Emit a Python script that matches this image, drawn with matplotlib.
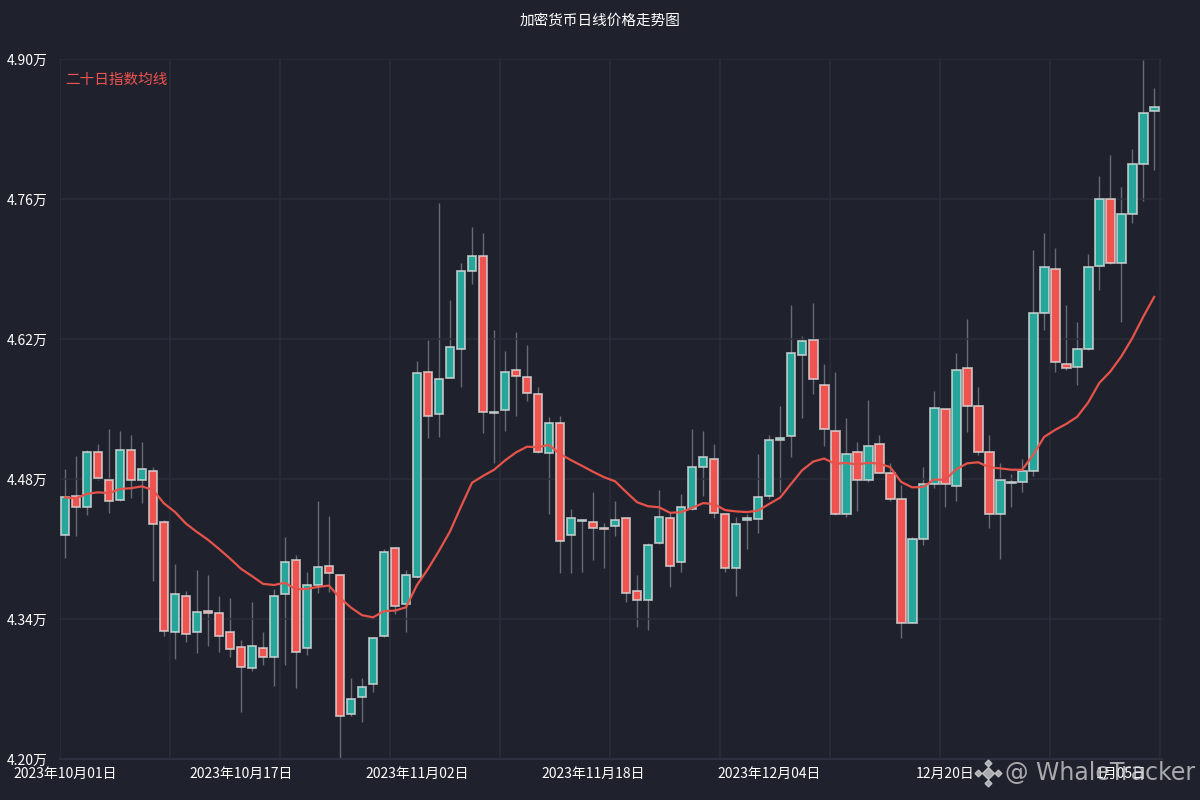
import matplotlib
matplotlib.use("Agg")
import matplotlib.pyplot as plt
from matplotlib.lines import Line2D
import numpy as np
import pandas as pd

plt.rcParams['font.family'] = ['Noto Sans CJK SC', 'DejaVu Sans']

# ---------------- data ----------------
title = "加密货币日线价格走势图"
ma_label = "二十日指数均线"

opens = [44237, 44633, 44520, 45073, 44790, 44593, 45093, 44787, 44883, 44370,
         43267, 43627, 43267, 43477, 43457, 43267, 43117, 42907, 43113, 43020,
         43647, 43990, 43113, 43740, 43933, 43837, 42447, 42617, 42750, 43227,
         44107, 43550, 43817, 45873, 45453, 45813, 46097, 46880, 47033, 45465,
         45490, 45890, 45817, 45647, 45057, 45357, 44237, 44377, 44370, 44313,
         44330, 44407, 43683, 43590, 44157, 44407, 43967, 44500, 44920, 44997,
         44447, 43913, 44390, 44403, 44633, 45187, 45227, 46040, 46193, 45737,
         45283, 44447, 45073, 44790, 45150, 44863, 44597, 43363, 44200, 44750,
         45497, 44727, 45913, 45530, 45073, 44447, 44757, 44767, 44883, 46463,
         46900, 45950, 45923, 46097, 46933, 47603, 46957, 47450, 47947, 48477]

closes = [44617, 44520, 45073, 44807, 44580, 45093, 44787, 44900, 44350, 43283,
          43647, 43247, 43473, 43457, 43230, 43097, 42923, 43133, 43020, 43630,
          43973, 43073, 43740, 43917, 43857, 42430, 42603, 42717, 43210, 44067,
          43533, 43837, 45857, 45433, 45797, 46120, 46883, 47033, 45473, 45475,
          45873, 45833, 45663, 45073, 45357, 44180, 44407, 44390, 44313, 44300,
          44390, 43663, 43590, 44140, 44423, 43933, 44523, 44920, 45017, 44463,
          43913, 44350, 44407, 44617, 45187, 45207, 46063, 46177, 45797, 45300,
          44447, 45053, 44790, 45133, 44863, 44597, 43363, 44197, 44753, 45513,
          44750, 45893, 45530, 45073, 44447, 44790, 44770, 44883, 46463, 46920,
          45967, 45907, 46103, 46920, 47603, 46957, 47453, 47947, 48460, 48517]

highs = [44900, 45030, 45090, 45150, 45300, 45280, 45240, 45170, 44923, 44390,
         43950, 43680, 43890, 43840, 43627, 43607, 43190, 43567, 43267, 43700,
         44217, 44040, 43873, 44580, 44430, 43850, 42807, 42807, 43223, 44097,
         44117, 43890, 45980, 46190, 47563, 46590, 46957, 47317, 47257, 46290,
         46080, 46270, 46140, 45723, 45417, 45430, 44500, 44400, 44667, 44363,
         44580, 44410, 43840, 44157, 44690, 44457, 44650, 45300, 45280, 45150,
         44450, 44423, 44450, 45050, 45240, 45530, 46540, 46230, 46557, 45950,
         45873, 45413, 45167, 45590, 45240, 44957, 44740, 44217, 44923, 45683,
         45500, 46063, 46400, 45717, 45240, 44957, 44847, 44997, 47090, 47260,
         47107, 46540, 46373, 47050, 47830, 48040, 47717, 48097, 48990, 48707]

lows = [44010, 44233, 44440, 44790, 44460, 44580, 44613, 44563, 43780, 43230,
        43000, 43173, 43057, 43133, 43073, 43020, 42467, 42883, 42943, 42733,
        42943, 42713, 43040, 43663, 43670, 42010, 42430, 42373, 42667, 43223,
        43447, 43267, 43810, 45207, 45223, 45810, 45723, 46750, 45263, 44963,
        45283, 45433, 45583, 45057, 44447, 43857, 43857, 43873, 43990, 43913,
        44233, 43573, 43323, 43290, 44150, 43723, 43873, 44495, 44633, 44407,
        43873, 43630, 44103, 44257, 44597, 44673, 45017, 45413, 45647, 45133,
        44440, 44423, 44483, 44773, 44860, 44580, 43210, 43360, 44140, 44713,
        44523, 44580, 45267, 45040, 44313, 43997, 44523, 44673, 44830, 46290,
        45870, 45890, 45740, 46090, 46690, 46950, 46367, 47357, 47583, 47890]

x_tick_pos = [0, 16, 32, 48, 64, 80, 96]
x_tick_labels = ["2023年10月01日", "2023年10月17日", "2023年11月02日",
                 "2023年11月18日", "2023年12月04日", "12月20日", "1月05日"]
y_ticks = [42000, 43400, 44800, 46200, 47600, 49000]
y_tick_labels = ["4.20万", "4.34万", "4.48万", "4.62万", "4.76万", "4.90万"]

# ---------------- style ----------------
BG = "#1f222d"
UP = "#26a69a"
DOWN = "#ef5350"
GRID = "#2b2f3c"

fig = plt.figure(figsize=(12, 8), dpi=100, facecolor=BG)
ax = fig.add_axes([0.05, 0.05125, 0.9185, 0.875])
ax.set_facecolor(BG)

o = np.array(opens, dtype=float)
c = np.array(closes, dtype=float)
h = np.array(highs, dtype=float)
l = np.array(lows, dtype=float)
idx = np.arange(len(o))
up = c >= o
colors = np.where(up, UP, DOWN)

# wicks
ax.vlines(idx, l, h, color="#686b74", linewidth=1.0, zorder=2)
# bodies
ax.bar(idx, np.abs(c - o), bottom=np.minimum(o, c), width=0.8,
       color=colors, edgecolor=(0.88, 0.88, 0.88, 0.75), linewidth=1.3, zorder=3)

# EMA line
ema = pd.Series(c).ewm(span=20, adjust=False).mean()
ax.plot(idx, ema, color="#e5534b", linewidth=1.6, zorder=4)

# axes
ax.set_xlim(-0.45, 99.73)
ax.set_ylim(y_ticks[0], y_ticks[-1])
ax.set_yticks(y_ticks)
ax.set_yticklabels(y_tick_labels)
ax.set_xticks(x_tick_pos)
ax.set_xticklabels(x_tick_labels)
ax.set_xticks(np.arange(-0.45, 100, 10), minor=True)
ax.tick_params(axis="both", which="both", length=0, colors="white", labelsize=10)
ax.tick_params(axis="y", pad=9)
ax.tick_params(axis="x", pad=6)

ax.grid(False)
ax.yaxis.grid(True, which="major", color=GRID, linewidth=1.2, alpha=0.85, zorder=5)
ax.xaxis.grid(True, which="minor", color=GRID, linewidth=1.2, alpha=0.85, zorder=5)
ax.set_axisbelow(False)
for s in ax.spines.values():
    s.set_visible(False)
ax.spines["bottom"].set_visible(True)
ax.spines["bottom"].set_color("#2e3240")
ax.spines["bottom"].set_linewidth(1.5)

# legend-like text
ax.text(0.005, 0.98, ma_label, transform=ax.transAxes, color="#ef5350",
        fontsize=10.5, ha="left", va="top", zorder=6)

fig.text(0.5, 0.974, title, color="white", fontsize=10.5, ha="center", va="center")

# watermark (logo + text), drawn under the tick labels
wm_color = (0.85, 0.85, 0.85, 0.75)
lx, ly = 0.8235, 0.034
for dx, dy, ms in [(0, 0, 6), (-0.0085, 0, 3.5), (0.0085, 0, 3.5),
                   (0, 0.0125, 3.5), (0, -0.0125, 3.5)]:
    fig.add_artist(Line2D([lx + dx], [ly + dy], marker="D", markersize=ms,
                          color=wm_color, linestyle="none",
                          transform=fig.transFigure, zorder=0.5))
fig.text(0.8375, 0.034, "@ WhaleTracker", color=wm_color, fontsize=17,
         family="DejaVu Sans", ha="left", va="center", zorder=0.5)

fig.savefig("out.png", dpi=100, facecolor=BG)
